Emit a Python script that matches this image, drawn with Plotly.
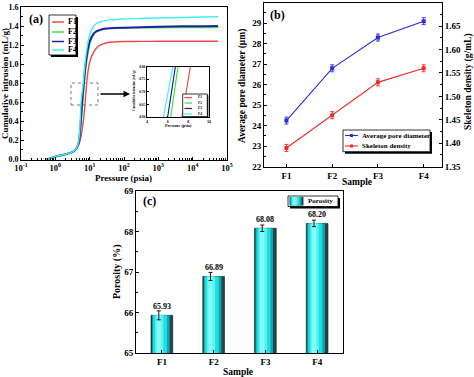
import plotly.graph_objects as go

# ---------------- data ----------------
# (a) mercury intrusion curves
pressure_F1 = [0.55, 0.7, 1.0, 1.5, 2.0, 3.0, 4.0, 4.6, 5.0, 5.6, 6.3, 6.9, 7.4, 8.2, 9.0, 10, 12, 15, 20, 30, 40, 60, 100, 300, 1000, 5000, 20000, 55000]
intrusion_F1 = [0, 0.01, 0.03, 0.045, 0.055, 0.075, 0.105, 0.14, 0.17, 0.24, 0.36, 0.48, 0.60, 0.80, 0.93, 1.02, 1.10, 1.16, 1.20, 1.222, 1.23, 1.235, 1.238, 1.239, 1.24, 1.24, 1.24, 1.24]
pressure_F2 = [0.55, 0.7, 1.0, 1.5, 2.0, 3.0, 4.0, 4.6, 5.0, 5.7, 6.3, 7.0, 7.8, 8.8, 10.2, 12.5, 15, 20, 30, 50, 100, 300, 1000, 5000, 20000, 55000]
intrusion_F2 = [0, 0.01, 0.03, 0.045, 0.055, 0.075, 0.11, 0.155, 0.21, 0.40, 0.60, 0.80, 0.97, 1.10, 1.22, 1.30, 1.335, 1.355, 1.37, 1.378, 1.38, 1.382, 1.383, 1.384, 1.385, 1.385]
pressure_F3 = [0.55, 0.7, 1.0, 1.5, 2.0, 3.0, 4.0, 4.6, 5.0, 5.5, 6.0, 6.75, 7.5, 8.5, 10, 12.5, 15, 20, 30, 50, 100, 300, 1000, 5000, 20000, 55000]
intrusion_F3 = [0, 0.01, 0.03, 0.045, 0.055, 0.075, 0.11, 0.155, 0.22, 0.40, 0.60, 0.80, 0.98, 1.12, 1.24, 1.31, 1.34, 1.36, 1.375, 1.38, 1.383, 1.388, 1.393, 1.397, 1.399, 1.40]
pressure_F4 = [0.55, 0.7, 1.0, 1.5, 2.0, 3.0, 4.0, 4.6, 5.0, 5.3, 5.6, 6.5, 7.2, 8.0, 9.0, 10.5, 12.5, 15, 20, 25, 40, 80, 200, 1000, 5000, 20000, 55000]
intrusion_F4 = [0, 0.01, 0.03, 0.045, 0.055, 0.075, 0.11, 0.16, 0.25, 0.40, 0.60, 0.80, 0.98, 1.12, 1.24, 1.33, 1.39, 1.42, 1.445, 1.455, 1.465, 1.472, 1.478, 1.485, 1.49, 1.495, 1.498]
series_names = ["F1", "F2", "F3", "F4"]
series_colors = ["#f04848", "#3fe03f", "#2020a8", "#40f0f0"]
series_widths = [1.4, 1.4, 2.0, 1.4]
pressure_tickvals = [0.1, 1, 10, 100, 1000, 10000, 100000]
pressure_ticktext = ["10<sup>-1</sup>", "10<sup>0</sup>", "10<sup>1</sup>", "10<sup>2</sup>",
                     "10<sup>3</sup>", "10<sup>4</sup>", "10<sup>5</sup>"]

# (b) pore diameter & skeleton density
samples = ["F1", "F2", "F3", "F4"]
pore_diameter = [24.25, 26.8, 28.3, 29.1]
pore_diameter_err = [0.17, 0.17, 0.17, 0.17]
skeleton_density = [1.39, 1.46, 1.53, 1.56]
skeleton_density_err = [0.0075, 0.0075, 0.0075, 0.0075]

# (c) porosity
porosity = [65.93, 66.89, 68.08, 68.20]
porosity_err = [0.11, 0.10, 0.08, 0.08]
porosity_labels = ["65.93", "66.89", "68.08", "68.20"]

# ---------------- helpers ----------------
W, H = 474, 377
def X(px):
    return px / W
def Y(py):
    return 1 - py / H

FONT = "Liberation Serif, Times New Roman, serif"
def f(size, color="black", bold=True):
    d = dict(family=FONT, size=size, color=color)
    if bold:
        d["weight"] = "bold"
    return d

fig = go.Figure()

# ---------------- (a) main ----------------
pressures = [pressure_F1, pressure_F2, pressure_F3, pressure_F4]
intrusions = [intrusion_F1, intrusion_F2, intrusion_F3, intrusion_F4]
for name, p, v, c, w in zip(series_names, pressures, intrusions, series_colors, series_widths):
    fig.add_trace(go.Scatter(x=p, y=v, mode="lines", name=name, showlegend=False,
                             line=dict(color=c, width=w, shape="spline", smoothing=0.6),
                             xaxis="x", yaxis="y"))
# inset
for name, p, v, c, w in zip(series_names, pressures, intrusions, series_colors, series_widths):
    fig.add_trace(go.Scatter(x=p, y=v, mode="lines", name=name, showlegend=False,
                             line=dict(color=c, width=1.2),
                             xaxis="x2", yaxis="y2"))

# ---------------- (b) ----------------
fig.add_trace(go.Scatter(x=samples, y=pore_diameter, mode="lines+markers", name="Average pore diameter",
                         showlegend=False, line=dict(color="#2a2ae0", width=1.1),
                         marker=dict(symbol="square", size=4, color="#2a2ae0"),
                         error_y=dict(type="data", array=pore_diameter_err, color="#2a2ae0", thickness=0.9, width=2),
                         xaxis="x3", yaxis="y3"))
fig.add_trace(go.Scatter(x=samples, y=skeleton_density, mode="lines+markers", name="Skeleton density",
                         showlegend=False, line=dict(color="#ee2a2a", width=1.1),
                         marker=dict(symbol="square", size=4, color="#ee2a2a"),
                         error_y=dict(type="data", array=skeleton_density_err, color="#ee2a2a", thickness=0.9, width=2),
                         xaxis="x3", yaxis="y4"))

# ---------------- (c) bars with cylinder shading ----------------
layers = [(-0.21, 0.42, "#22454b"), (-0.19, 0.34, "#14a4ab"), (-0.17, 0.27, "#1ddede"),
          (-0.13, 0.16, "#5cf3f3"), (-0.10, 0.08, "#86f9f9")]
for i, (off, wd, col) in enumerate(layers):
    last = i == len(layers) - 1
    fig.add_trace(go.Bar(x=samples, y=porosity, name="Porosity", showlegend=False,
                         offset=off, width=wd, marker=dict(color=col,
                         line=dict(color="#0e2024" if i == 0 else col, width=0.6 if i == 0 else 0)),
                         error_y=dict(type="data", array=porosity_err, color="#1a1a1a",
                                      thickness=1, width=2) if last else None,
                         xaxis="x4", yaxis="y5"))

for s, v, lab in zip(samples, porosity, porosity_labels):
    fig.add_annotation(x=s, y=v, xref="x4", yref="y5", text=lab, showarrow=False,
                       yshift=9, font=f(8))

# ---------------- axes ----------------
common = dict(showline=True, linecolor="black", linewidth=1, mirror=True, ticks="inside",
              ticklen=3, tickcolor="black", showgrid=False, zeroline=False, tickfont=f(9),
              automargin=False)

fig.update_layout(
    width=W, height=H, margin=dict(l=0, r=0, t=0, b=0, pad=0, autoexpand=False),
    paper_bgcolor="white", plot_bgcolor="white", barmode="overlay", showlegend=False,
    xaxis=dict(common, domain=[X(21), X(227)], type="log", range=[-1, 5],
               tickmode="array", tickvals=pressure_tickvals, ticktext=pressure_ticktext,
               tickfont=f(8.5),
               minor=dict(ticks="inside", ticklen=2, tickcolor="black", tickmode="linear", dtick="D1"),
               anchor="y"),
    yaxis=dict(common, domain=[Y(159.5), Y(7)], range=[0, 1.6], dtick=0.2, tickformat=".1f",
               tickfont=f(8),
               minor=dict(ticks="inside", ticklen=2, tickcolor="black", dtick=0.1),
               anchor="x"),
    xaxis2=dict(common, domain=[X(147), X(209)], range=[4, 10], dtick=2, ticklen=1.5,
                tickfont=f(4), anchor="y2"),
    yaxis2=dict(common, domain=[Y(117), Y(66.5)], range=[0.6, 0.8], dtick=0.05, ticklen=1.5,
                tickformat=".2f", tickfont=f(3.5), anchor="x2"),
    xaxis3=dict(common, domain=[X(264), X(442)], type="category", range=[-0.49, 3.4], anchor="y3"),
    yaxis3=dict(common, domain=[Y(166.7), Y(2.7)], range=[22, 30], dtick=1, mirror=False,
                minor=dict(ticks="inside", ticklen=2, tickcolor="black", dtick=0.5),
                anchor="x3"),
    yaxis4=dict(common, overlaying="y3", side="right", range=[1.35, 1.70], dtick=0.05,
                tickformat=".2f", mirror=False,
                minor=dict(ticks="inside", ticklen=2, tickcolor="black", dtick=0.025),
                anchor="x3"),
    xaxis4=dict(common, domain=[X(136), X(343)], type="category", range=[-0.5, 3.5], anchor="y5"),
    yaxis5=dict(common, domain=[Y(353), Y(191)], range=[65, 69], dtick=1,
                minor=dict(ticks="inside", ticklen=2, tickcolor="black", dtick=0.5),
                anchor="x4"),
)

# ---------------- titles & labels ----------------
def ann(x, y, text, size, angle=0, xanchor="center", bold=True):
    fig.add_annotation(x=X(x), y=Y(y), xref="paper", yref="paper", text=text, showarrow=False,
                       textangle=angle, font=f(size, bold=bold), xanchor=xanchor, yanchor="middle")

ann(5, 84, "Cumulative intrusion (mL/g)", 9, -90)
ann(123, 177.5, "Pressure (psia)", 9)
ann(36, 19, "(a)", 12)
ann(242, 86, "Average pore diameter (μm)", 9.5, -90)
ann(469, 82, "Skeleton density (g/mL)", 9.5, -90)
ann(357, 182.5, "Sample", 9.5)
ann(277, 15, "(b)", 12)
ann(117, 272, "Porosity (%)", 10, -90)
ann(238, 371.5, "Sample", 9.5)
ann(149, 201, "(c)", 12)
# inset titles
ann(178, 125, "Pressure (psia)", 4.2)
ann(134, 91, "Cumulative intrusion (mL/g)", 3.3, -90)

# ---------------- dashed zoom box and arrow ----------------
fig.add_shape(type="rect", xref="paper", yref="paper", x0=X(71), x1=X(98), y0=Y(105), y1=Y(83),
              line=dict(color="#777777", width=1, dash="dot"))
fig.add_annotation(x=X(130), y=Y(94), xref="paper", yref="paper", ax=-31, ay=0, text="",
                   showarrow=True, arrowhead=2, arrowsize=1, arrowwidth=1.3, arrowcolor="black")

# ---------------- legends (drawn manually) ----------------
def legend_box(x0, y0, x1, y1, shadow=2):
    fig.add_shape(type="rect", xref="paper", yref="paper", x0=X(x0 + shadow), x1=X(x1 + shadow),
                  y0=Y(y1 + shadow), y1=Y(y0 + shadow), line=dict(width=0), fillcolor="black")
    fig.add_shape(type="rect", xref="paper", yref="paper", x0=X(x0), x1=X(x1), y0=Y(y1), y1=Y(y0),
                  line=dict(color="black", width=0.8), fillcolor="white")

# (a) legend
legend_box(49, 15, 76, 55)
for name, c, yy in zip(series_names, series_colors, [22, 32, 41.5, 50]):
    fig.add_shape(type="line", xref="paper", yref="paper", x0=X(52), x1=X(64), y0=Y(yy), y1=Y(yy),
                  line=dict(color=c, width=1.5))
    ann(66, yy, name, 8, xanchor="left")

# inset legend
legend_box(182.7, 94, 207.3, 116.7, shadow=1)
for name, c, yy in zip(series_names, series_colors, [97.5, 103, 108.5, 114]):
    fig.add_shape(type="line", xref="paper", yref="paper", x0=X(184.5), x1=X(192), y0=Y(yy), y1=Y(yy),
                  line=dict(color=c, width=1.2))
    ann(196, yy, name, 3.5, xanchor="left")

# (b) legend
legend_box(343, 130, 430, 151.7)
for name, c, yy in zip(["Average pore diameter", "Skeleton density"], ["#2a2ae0", "#ee2a2a"], [135.5, 146]):
    fig.add_shape(type="line", xref="paper", yref="paper", x0=X(345), x1=X(358), y0=Y(yy), y1=Y(yy),
                  line=dict(color=c, width=1.1))
    fig.add_shape(type="rect", xref="paper", yref="paper", x0=X(350), x1=X(353), y0=Y(yy + 1.5), y1=Y(yy - 1.5),
                  line=dict(width=0), fillcolor=c)
    ann(360, yy, name, 7, xanchor="left")

# (c) legend
legend_box(288, 196, 338, 206.5)
sw0, sw1 = 289.5, 303.5
for off, wd, col in layers:
    a = sw0 + (off + 0.21) / 0.42 * (sw1 - sw0)
    b = a + wd / 0.42 * (sw1 - sw0)
    fig.add_shape(type="rect", xref="paper", yref="paper", x0=X(a), x1=X(b), y0=Y(205.5), y1=Y(197),
                  line=dict(width=0), fillcolor=col)
ann(306, 201.2, "Porosity", 7, xanchor="left")

# remove the browser's default 8px body margin so the 474x377 figure fills the window
fig.write_html("out.html", config={"displayModeBar": False},
               post_script="document.body.style.margin='0';")
